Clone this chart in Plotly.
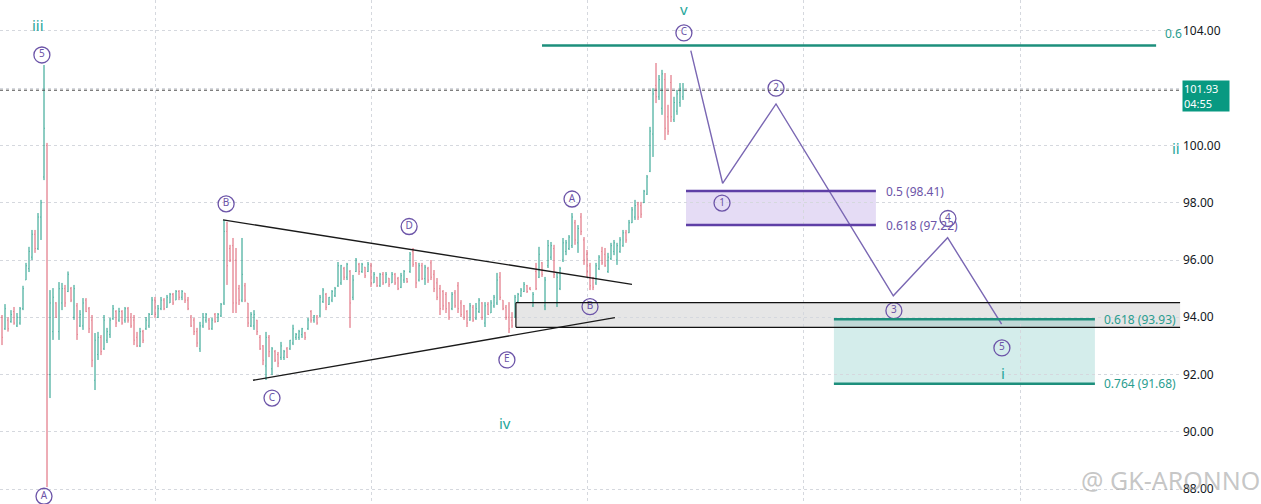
import plotly.graph_objects as go

# ---------------- price data (OHLC) ----------------
opens = [
    94.0, 93.6, 93.9, 93.85, 94.2, 93.7, 93.8, 94.3, 95.3, 95.7,
    96.1, 96.9, 96.4, 97.5, 98.9, 100.0, 92.0, 93.5, 94.5, 93.5,
    94.5, 95.0, 94.9, 95.0, 94.0, 94.4, 93.7, 93.7, 94.6, 94.3,
    93.9, 91.8, 92.7, 93.3, 92.9, 93.2, 93.4, 93.95, 94.2, 93.9,
    94.2, 93.9, 94.3, 94.0, 93.9, 93.3, 93.0, 93.5, 93.6, 93.7,
    94.1, 94.6, 94.0, 94.3, 94.6, 94.35, 94.5, 94.8, 94.6, 94.9,
    94.7, 94.85, 94.6, 94.0, 93.9, 93.5, 92.9, 93.7, 93.9, 93.9,
    93.6, 94.1, 93.85, 94.05, 94.5, 97.0, 96.4, 96.5, 96.0, 95.0,
    94.6, 95.1, 94.5, 93.7, 93.7, 93.9, 93.3, 93.0, 92.3, 93.3,
    92.2, 92.8, 92.7, 92.6, 92.6, 92.9, 92.9, 93.1, 93.3, 93.3,
    93.4, 93.45, 93.6, 94.2, 93.9, 94.0, 94.05, 94.55, 94.8, 94.45,
    94.6, 94.75, 95.1, 95.2, 95.7, 95.4, 95.6, 94.7, 95.6, 95.85,
    95.6, 95.75, 95.6, 95.8, 95.2, 95.4, 95.1, 95.5, 95.2, 95.37,
    95.2, 95.5, 95.35, 95.05, 95.3, 95.35, 95.6, 96.3, 95.9, 95.3,
    95.8, 95.35, 95.7, 95.9, 95.5, 95.2, 95.0, 94.9, 94.8, 94.5,
    94.3, 94.85, 95.1, 94.5, 94.4, 94.2, 93.9, 94.35, 93.95, 94.2,
    94.5, 93.8, 94.45, 94.15, 94.4, 94.5, 95.4, 94.6, 94.35, 94.0,
    93.9, 94.0, 94.55, 94.75, 94.9, 95.1, 95.0, 94.4, 95.6, 95.4,
    95.9, 94.4, 95.8, 96.1, 96.4, 94.5, 95.0, 96.0, 96.3, 96.4,
    96.5, 97.3, 96.6, 97.5, 96.7, 96.2, 95.8, 95.35, 95.2, 95.7,
    96.3, 96.2, 95.6, 96.05, 96.3, 96.0, 96.3, 96.5, 96.95, 96.95,
    97.3, 97.5, 97.95, 97.9, 98.0, 98.3, 99.1, 100.4, 102.1, 101.7,
    101.3, 102.3, 101.0, 102.2, 100.9, 101.2, 101.5, 101.7,
]
highs = [
    94.08, 94.46, 94.0, 94.25, 94.36, 94.15, 94.36, 95.1, 95.9, 96.46,
    97.05, 97.05, 97.64, 98.1, 102.81, 100.09, 94.95, 95.02, 94.53, 95.23,
    95.2, 95.13, 95.6, 95.06, 95.13, 94.5, 94.25, 94.67, 94.67, 94.36,
    94.08, 93.45, 93.49, 93.38, 94.08, 93.63, 93.98, 94.43, 94.25, 94.33,
    94.25, 94.36, 94.36, 94.15, 94.08, 93.49, 93.63, 93.56, 94.01, 94.15,
    94.71, 94.71, 94.43, 94.71, 94.67, 94.78, 94.85, 94.85, 94.95, 94.95,
    94.95, 94.85, 94.71, 94.08, 93.98, 93.63, 93.84, 94.15, 94.15, 93.98,
    93.98, 94.15, 94.15, 94.5, 97.40, 97.33, 96.53, 96.77, 96.42, 95.13,
    96.77, 95.2, 94.5, 94.18, 94.25, 93.91, 93.38, 93.03, 93.49, 93.38,
    92.96, 92.86, 92.79, 93.14, 92.86, 92.96, 93.21, 93.74, 93.45, 93.56,
    93.63, 93.49, 93.98, 94.25, 94.08, 94.08, 94.78, 95.02, 94.85, 94.71,
    94.95, 95.06, 95.93, 95.83, 95.76, 95.9, 95.65, 95.48, 96.07, 95.9,
    95.9, 95.76, 95.93, 95.9, 95.58, 95.41, 95.55, 95.58, 95.58, 95.37,
    95.58, 95.55, 95.41, 95.55, 95.65, 95.37, 96.28, 96.42, 95.93, 95.9,
    95.9, 95.83, 95.76, 96.0, 95.65, 95.37, 95.13, 94.95, 94.88, 94.53,
    94.88, 94.95, 95.23, 94.6, 94.43, 94.25, 94.5, 94.43, 94.5, 94.67,
    94.53, 94.53, 94.53, 94.6, 94.78, 95.55, 95.58, 94.6, 94.43, 94.53,
    94.18, 94.78, 94.85, 95.02, 95.23, 95.13, 95.06, 94.88, 95.9, 96.46,
    95.93, 95.41, 96.7, 96.63, 96.53, 95.55, 95.76, 96.77, 96.7, 96.87,
    97.64, 97.4, 97.22, 97.64, 96.8, 96.35, 95.9, 95.41, 95.9, 96.17,
    96.46, 96.42, 96.25, 96.6, 96.7, 96.6, 96.8, 97.05, 97.05, 97.4,
    97.85, 98.1, 98.03, 98.03, 98.45, 98.97, 100.65, 102.0, 102.88, 102.46,
    102.64, 102.53, 101.42, 102.46, 101.7, 101.94, 102.18, 102.18,
]
lows = [
    93.03, 93.56, 93.5, 93.81, 93.74, 93.66, 93.74, 94.25, 95.3, 95.58,
    96.0, 96.25, 96.35, 96.7, 98.79, 88.07, 91.18, 93.21, 93.98, 93.21,
    94.25, 94.36, 94.88, 94.53, 93.91, 93.21, 93.66, 93.56, 94.18, 93.45,
    92.26, 91.46, 92.51, 92.68, 92.86, 93.1, 93.28, 93.91, 93.66, 93.84,
    93.74, 93.81, 93.81, 93.63, 93.03, 92.96, 92.96, 93.1, 93.56, 93.63,
    94.08, 93.98, 93.98, 94.25, 94.25, 94.33, 94.5, 94.43, 94.6, 94.6,
    94.6, 94.5, 94.25, 93.66, 93.38, 92.96, 92.79, 93.63, 93.81, 93.56,
    93.56, 93.81, 93.84, 94.01, 94.43, 95.13, 95.93, 94.15, 94.15, 94.43,
    94.53, 94.53, 93.66, 93.66, 93.56, 93.38, 92.86, 92.33, 91.81, 92.61,
    91.98, 92.44, 92.26, 92.51, 92.51, 92.58, 92.86, 93.03, 93.21, 93.21,
    93.28, 93.21, 93.56, 93.81, 93.81, 93.74, 94.01, 94.5, 94.25, 94.43,
    94.53, 94.71, 95.06, 95.13, 95.3, 95.3, 93.63, 94.6, 95.58, 95.48,
    95.55, 95.37, 95.58, 95.06, 95.2, 95.06, 95.06, 95.13, 95.2, 95.06,
    95.2, 95.13, 94.95, 95.02, 95.2, 95.2, 95.55, 95.76, 95.02, 95.25,
    95.3, 95.13, 95.2, 95.3, 94.88, 94.6, 94.08, 94.25, 94.15, 93.91,
    94.25, 94.33, 94.15, 94.01, 93.91, 93.66, 93.88, 93.84, 93.91, 94.15,
    93.91, 93.66, 94.08, 94.15, 94.33, 94.43, 94.6, 94.25, 93.91, 93.45,
    93.63, 93.98, 94.5, 94.71, 94.88, 94.85, 94.95, 94.36, 94.95, 95.37,
    95.41, 94.25, 95.72, 96.0, 95.37, 94.36, 94.95, 95.93, 96.17, 96.35,
    96.42, 96.53, 96.25, 96.87, 95.83, 95.41, 94.95, 94.95, 95.13, 95.65,
    95.83, 95.76, 95.55, 96.0, 96.17, 95.83, 96.25, 96.46, 96.6, 96.94,
    97.29, 97.4, 97.4, 97.47, 97.99, 98.27, 99.07, 99.6, 101.48, 101.59,
    101.07, 100.19, 100.37, 100.82, 100.82, 101.07, 101.35, 101.59,
]
closes = [
    93.3, 94.3, 93.6, 94.1, 93.8, 94.0, 94.3, 95.0, 95.8, 96.3,
    96.9, 96.4, 97.5, 98.0, 100.6, 92.0, 94.5, 94.7, 94.0, 95.0,
    95.0, 94.5, 95.5, 94.6, 95.0, 93.4, 94.1, 94.5, 94.2, 93.6,
    92.5, 93.2, 93.3, 92.8, 93.9, 93.5, 93.9, 94.3, 93.8, 94.2,
    93.8, 94.3, 93.9, 93.7, 93.2, 93.0, 93.5, 93.2, 93.9, 94.1,
    94.6, 94.1, 94.3, 94.6, 94.3, 94.7, 94.8, 94.5, 94.9, 94.7,
    94.9, 94.6, 94.3, 93.7, 93.5, 93.1, 93.7, 94.0, 94.1, 93.6,
    93.9, 93.85, 94.1, 94.45, 97.0, 95.8, 96.0, 94.5, 94.5, 94.6,
    95.5, 94.6, 93.8, 94.1, 94.1, 93.5, 92.9, 92.5, 93.3, 92.8,
    92.9, 92.5, 92.4, 93.0, 92.8, 92.6, 93.2, 93.6, 93.4, 93.5,
    93.6, 93.3, 93.9, 93.9, 94.05, 93.8, 94.7, 94.95, 94.35, 94.7,
    94.9, 95.0, 95.8, 95.8, 95.4, 95.85, 94.5, 95.3, 96.0, 95.6,
    95.85, 95.45, 95.85, 95.2, 95.5, 95.1, 95.5, 95.2, 95.5, 95.15,
    95.5, 95.2, 95.0, 95.45, 95.6, 95.25, 96.2, 95.85, 95.2, 95.8,
    95.35, 95.75, 95.3, 95.4, 95.0, 94.7, 94.3, 94.4, 94.3, 94.0,
    94.8, 94.4, 94.3, 94.1, 94.0, 93.8, 94.4, 93.9, 94.3, 94.6,
    94.0, 94.4, 94.1, 94.5, 94.7, 95.3, 94.7, 94.3, 94.0, 93.6,
    93.7, 94.7, 94.8, 94.95, 95.15, 94.9, 94.96, 94.8, 95.0, 96.2,
    95.5, 95.3, 96.5, 96.5, 95.5, 95.4, 95.7, 96.6, 96.6, 96.8,
    97.5, 96.7, 97.1, 97.0, 96.0, 95.6, 95.1, 95.05, 95.8, 96.1,
    95.9, 95.8, 96.1, 96.5, 96.6, 96.5, 96.7, 96.95, 96.7, 97.3,
    97.75, 97.9, 97.5, 97.6, 98.4, 98.9, 100.5, 101.8, 101.7, 102.3,
    102.5, 100.6, 100.5, 101.0, 101.5, 101.8, 102.0, 101.93,
]
bar_index = list(range(len(closes)))

price_ticks = [88, 90, 92, 94, 96, 98, 100, 102, 104]
last_price = 101.93
last_time = "04:55"

# ---------------- drawing tools (bar index / price) ----------------
upper_line_x, upper_line_y = [73.67, 210.0], [97.40, 95.15]
lower_line_x, lower_line_y = [83.67, 204.3], [91.80, 93.99]
gray_box_x, gray_box_y = [171.3, 392.7], [93.65, 94.51]
purple_box_x, purple_box_y = [228.0, 291.3], [97.22, 98.41]
teal_box_x, teal_box_y = [277.3, 364.3], [91.68, 93.93]
top_line_x, top_line_y = [180.0, 384.7], 103.49
wave_x = [229.6, 240.2, 258.0, 297.1, 315.2, 333.2]
wave_y = [103.31, 98.68, 101.45, 94.75, 96.78, 93.76]

circle_labels = ["5", "A", "B", "C", "D", "E", "A", "B", "C", "1", "2", "3", "4", "5"]
circle_x = [13.3, 14.0, 74.7, 90.0, 135.7, 168.3, 190.0, 196.0, 227.3, 240.0, 258.0, 297.3, 315.3, 333.3]
circle_y = [103.16, 87.75, 97.96, 91.18, 97.17, 92.51, 98.13, 94.37, 103.93, 97.99, 102.0, 94.23, 97.45, 92.93]

roman_labels = ["iii", "iv", "v", "ii", "i"]
roman_x = [12.0, 167.7, 227.3, 391.3, 333.7]
roman_y = [104.2, 90.32, 104.76, 99.9, 92.05]

fib_labels = ["0.5 (98.41)", "0.618 (97.22)", "0.618 (93.93)", "0.764 (91.68)", "0.6"]
fib_x = [294.0, 294.0, 366.7, 366.7, 387.0]
fib_y = [98.41, 97.22, 93.93, 91.68, 103.92]

TEAL = "#1a9a85"
RED = "#dc5a6c"
PURPLE = "#6c54a8"
FONT = "Noto Sans"

fig = go.Figure()

fig.add_trace(go.Ohlc(
    x=bar_index, open=opens, high=highs, low=lows, close=closes,
    increasing=dict(line=dict(color=TEAL, width=1)),
    decreasing=dict(line=dict(color=RED, width=1)),
    tickwidth=0.15, hoverinfo="skip", showlegend=False,
))

# wave projection path
fig.add_trace(go.Scatter(
    x=wave_x, y=wave_y, mode="lines",
    line=dict(color="#7a67b3", width=1.4), hoverinfo="skip", showlegend=False,
))
# triangle lines
fig.add_trace(go.Scatter(x=upper_line_x, y=upper_line_y, mode="lines",
                         line=dict(color="#1a1a1a", width=1.4), hoverinfo="skip", showlegend=False))
fig.add_trace(go.Scatter(x=lower_line_x, y=lower_line_y, mode="lines",
                         line=dict(color="#1a1a1a", width=1.4), hoverinfo="skip", showlegend=False))

# circled wave labels
fig.add_trace(go.Scatter(
    x=circle_x, y=circle_y, mode="markers+text", text=circle_labels,
    textposition="middle center",
    textfont=dict(color=PURPLE, size=10, family=FONT),
    marker=dict(symbol="circle", size=16, color="rgba(255,255,255,0)",
                line=dict(color=PURPLE, width=1.3)),
    hoverinfo="skip", showlegend=False,
))

shapes = []
# gray zone
shapes.append(dict(type="rect", xref="x", yref="y", x0=gray_box_x[0], x1=gray_box_x[1],
                   y0=gray_box_y[0], y1=gray_box_y[1], fillcolor="rgba(200,200,200,0.45)",
                   line=dict(width=0), layer="below"))
for yy in gray_box_y:
    shapes.append(dict(type="line", xref="x", yref="y", x0=gray_box_x[0], x1=gray_box_x[1],
                       y0=yy, y1=yy, line=dict(color="#111111", width=1.2)))
shapes.append(dict(type="line", xref="x", yref="y", x0=gray_box_x[0], x1=gray_box_x[0],
                   y0=gray_box_y[0], y1=gray_box_y[1], line=dict(color="#111111", width=1.2)))
# purple fib box
shapes.append(dict(type="rect", xref="x", yref="y", x0=purple_box_x[0], x1=purple_box_x[1],
                   y0=purple_box_y[0], y1=purple_box_y[1], fillcolor="rgba(160,130,220,0.28)",
                   line=dict(width=0), layer="below"))
for yy in purple_box_y:
    shapes.append(dict(type="line", xref="x", yref="y", x0=purple_box_x[0], x1=purple_box_x[1],
                       y0=yy, y1=yy, line=dict(color="#5e3fa6", width=2.5)))
# teal fib box
shapes.append(dict(type="rect", xref="x", yref="y", x0=teal_box_x[0], x1=teal_box_x[1],
                   y0=teal_box_y[0], y1=teal_box_y[1], fillcolor="rgba(38,166,154,0.2)",
                   line=dict(width=0), layer="below"))
for yy in teal_box_y:
    shapes.append(dict(type="line", xref="x", yref="y", x0=teal_box_x[0], x1=teal_box_x[1],
                       y0=yy, y1=yy, line=dict(color="#1d8f7c", width=2.5)))
# top teal level
shapes.append(dict(type="line", xref="x", yref="y", x0=top_line_x[0], x1=top_line_x[1],
                   y0=top_line_y, y1=top_line_y, line=dict(color="#1d8f7c", width=2.5)))
# last price dotted line
shapes.append(dict(type="line", xref="paper", yref="y", x0=0, x1=1,
                   y0=last_price, y1=last_price, line=dict(color="#444444", width=1, dash="dot")))

annotations = []
for t, xx, yy in zip(roman_labels, roman_x, roman_y):
    annotations.append(dict(x=xx, y=yy, xref="x", yref="y", text=t, showarrow=False,
                            font=dict(color="#26a69a", size=15, family=FONT)))
fib_colors = [PURPLE, PURPLE, "#2a9d8f", "#2a9d8f", "#2a9d8f"]
for t, xx, yy, cc in zip(fib_labels, fib_x, fib_y, fib_colors):
    annotations.append(dict(x=xx, y=yy, xref="x", yref="y", text=t, showarrow=False,
                            xanchor="left", font=dict(color=cc, size=12, family=FONT)))
annotations.append(dict(x=1, y=last_price, xref="paper", yref="y", xanchor="left", yanchor="middle",
                        yshift=-6, text=f"{last_price:.2f}<br>{last_time}", showarrow=False,
                        align="left", bgcolor="#089981", width=44, height=28, borderpad=1,
                        font=dict(color="white", size=11, family=FONT)))
annotations.append(dict(x=0.99, y=88.32, xref="paper", yref="y", xanchor="center",
                        text="@ GK-ARONNO", showarrow=False,
                        font=dict(color="rgba(150,150,150,0.55)", size=25, family=FONT)))

fig.update_layout(
    width=1261, height=504,
    margin=dict(l=0, r=79, t=0, b=0),
    plot_bgcolor="white", paper_bgcolor="white",
    showlegend=False, shapes=shapes, annotations=annotations,
    xaxis=dict(range=[-0.667, 393.33], showticklabels=False, showgrid=True,
               gridcolor="#d5d8de", griddash="dot", tickmode="linear", tick0=51, dtick=72.1,
               zeroline=False, rangeslider=dict(visible=False), fixedrange=True),
    yaxis=dict(range=[87.48, 105.08], side="right", tickvals=price_ticks,
               ticktext=[f"{v:.2f}" for v in price_ticks], showgrid=True,
               gridcolor="#d5d8de", griddash="dot", zeroline=False, ticks="",
               tickfont=dict(color="#131722", size=12, family=FONT)),
)

fig.write_html(
    "out.html",
    config={"displayModeBar": False},
    post_script="document.body.style.margin='0';document.body.style.overflow='hidden';",
)
